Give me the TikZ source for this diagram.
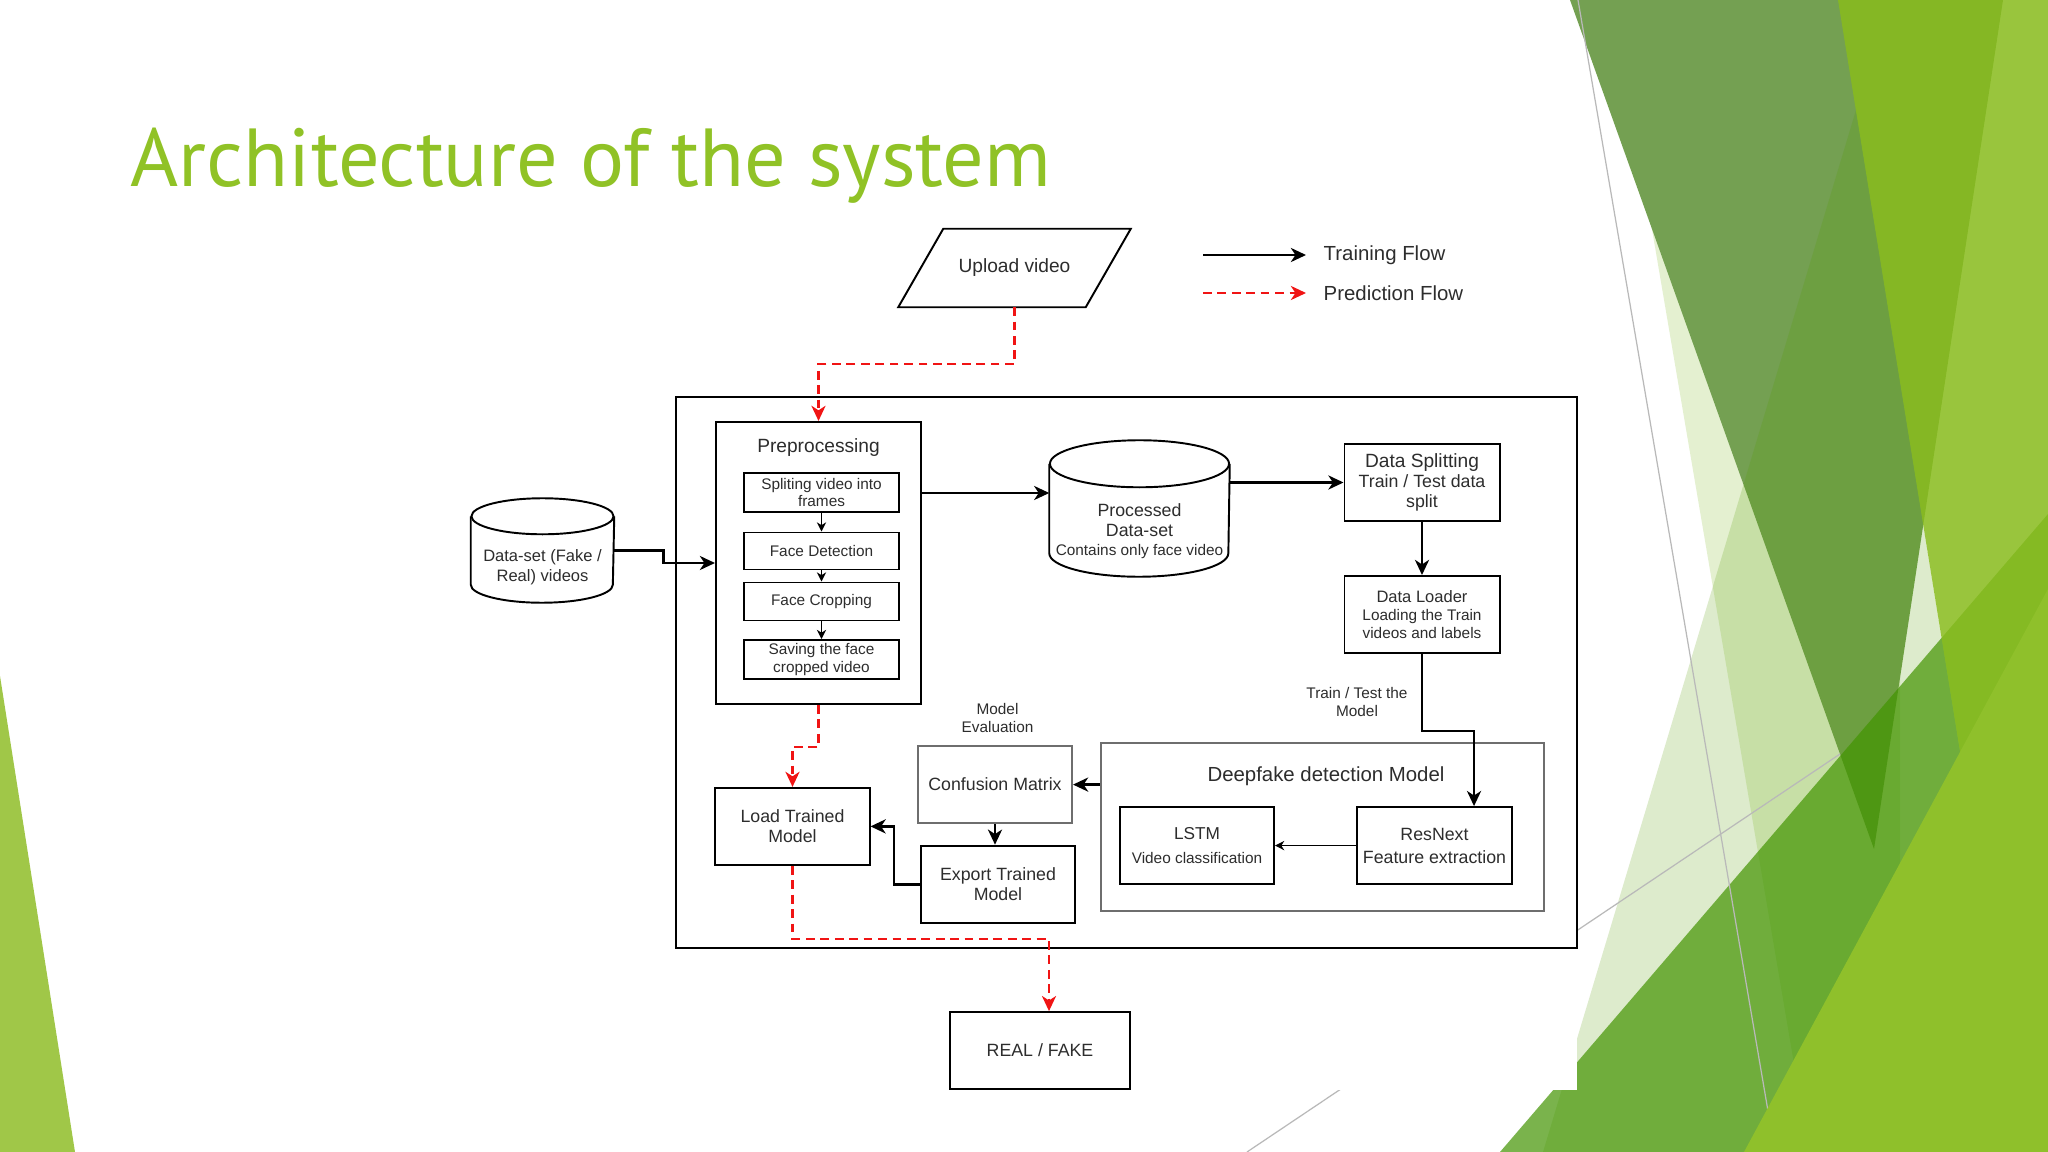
\documentclass[tikz,border=0pt]{standalone}
\usepackage{fontspec}
\setmainfont{Liberation Sans}
\newfontfamily\titlefont{PT Sans}
\usetikzlibrary{arrows.meta}

\definecolor{titlegreen}{RGB}{144,194,38}
\definecolor{leafgreen}{RGB}{160,199,72}
\definecolor{olive}{RGB}{116,160,82}
\definecolor{palegreen}{RGB}{228,240,208}
\definecolor{brightgreen}{RGB}{136,188,28}
\definecolor{deepgreen}{RGB}{85,155,0}
\definecolor{midgreen}{RGB}{66,148,0}
\definecolor{limegreen}{RGB}{143,192,43}
\definecolor{predred}{RGB}{240,20,20}
\definecolor{boxgray}{RGB}{110,110,110}
\definecolor{txtgray}{RGB}{45,45,45}

\newcommand\fsXL{\fontsize{5.8}{6.8}\selectfont}
\newcommand\fsL{\fontsize{5.45}{6.2}\selectfont}
\newcommand\fsM{\fontsize{5.05}{5.8}\selectfont}
\newcommand\fsMS{\fontsize{4.7}{5.7}\selectfont}
\newcommand\fsS{\fontsize{4.37}{5.1}\selectfont}

\tikzset{
  box/.style={draw=black, line width=0.55pt, rectangle, align=center, inner sep=0.5pt, text=txtgray},
  graybox/.style={box, draw=boxgray},
  dbbox/.style={rectangle, inner sep=0pt},
  dbline/.style={draw=black, line width=0.55pt},
  flow/.style={line width=0.75pt, -{Stealth[length=4.3pt,width=4pt,inset=1.3pt]}},
  thinflow/.style={line width=0.45pt, -{Stealth[length=2.6pt,width=2.6pt,inset=0.8pt]}},
  predict/.style={line width=0.7pt, predred, dash pattern=on 2.5pt off 1.6pt, -{Stealth[length=4.3pt,width=4pt,inset=1.3pt]}},
  lbl/.style={text=txtgray, align=center, inner sep=0pt},
}

\begin{document}
\begin{tikzpicture}[x=0.01cm, y=-0.01cm]
\useasboundingbox (0,0) rectangle (2048,1152);
% slide background
\fill[white] (0,0) rectangle (2048,1152);
\fill[leafgreen] (0,676) -- (75,1152) -- (0,1152) -- cycle;
\fill[palegreen] (1613,0) -- (1900,0) -- (1900,1152) -- (1809,1152) -- cycle;
\fill[olive] (1570,0) -- (2003,0) -- (1874,849) -- cycle;
\fill[deepgreen, fill opacity=0.2] (1856,110) -- (2025,1152) -- (1543,1152) -- cycle;
\draw[gray!55, line width=0.35pt] (1247,1152) -- (1840,754);
\fill[midgreen, fill opacity=0.7] (1500,1152) -- (2048,514) -- (2048,1152) -- cycle;
\fill[brightgreen, fill opacity=0.85] (1838,0) -- (2048,0) -- (2048,1152) -- (2025,1152) -- cycle;
\draw[gray!55, line width=0.35pt] (1578,0) -- (1775,1152);
\fill[limegreen] (1744,1152) -- (2048,589) -- (2048,1152) -- cycle;
\fill[white] (300,215) rectangle (1577,1090);

\node[anchor=base west, inner sep=0pt, font=\titlefont\fontsize{23.4}{26}\selectfont, text=titlegreen] (title) at (130,187) {Architecture of the system};

% legend
\coordinate (trainA) at (1203,255);
\coordinate (trainB) at (1306,255);
\coordinate (predA) at (1203,293);
\coordinate (predB) at (1306,293);
\draw[flow] (trainA) -- (trainB);
\draw[predict] (predA) -- (predB);
\node[lbl, anchor=west, font=\fsXL] (trainlbl) at (1323,255) {Training Flow};
\node[lbl, anchor=west, font=\fsXL] (predlbl) at (1323,293) {Prediction Flow};

% diagram
\node[box, minimum width=9.01cm, minimum height=5.51cm] (outer) at (1126.5,672.2) {};
\node[lbl, minimum width=1.86cm, minimum height=0.77cm, font=\fsL] (upload) at (1014.5,268) {Upload video};
\draw[line width=0.55pt] ([xshift=-0.225cm]upload.south west) -- ([xshift=0.225cm]upload.north west)
  -- ([xshift=0.225cm]upload.north east) -- ([xshift=-0.225cm]upload.south east) -- cycle;

\node[dbbox, minimum width=1.42cm, minimum height=1.03cm] (data) at (542.5,550.5) {};
\draw[dbline] ([yshift=-0.18cm]data.north west) -- ([yshift=0.18cm]data.south west)
  arc[start angle=180, end angle=360, x radius=0.71cm, y radius=0.18cm] -- ([yshift=-0.18cm]data.north east);
\draw[dbline] ([yshift=-0.18cm]data.north) ellipse [x radius=0.71cm, y radius=0.18cm];
\node[lbl, font=\fsMS] (datatext) at (542.5,567) {Data-set (Fake /\\Real) videos};

\node[box, minimum width=2.05cm, minimum height=2.82cm] (pre) at (818.5,563) {};
\node[lbl, font=\fsL] (pretitle) at (818.5,448) {Preprocessing};
\node[box, minimum width=1.55cm, minimum height=0.39cm, font=\fsS] (split) at (821.5,492.5) {Spliting video into\\frames};
\node[box, minimum width=1.55cm, minimum height=0.37cm, font=\fsS] (detect) at (821.5,551) {Face Detection};
\node[box, minimum width=1.55cm, minimum height=0.38cm, font=\fsS] (crop) at (821.5,601.5) {Face Cropping};
\node[box, minimum width=1.55cm, minimum height=0.39cm, font=\fsS] (save) at (821.5,659.5) {Saving the face\\cropped video};

\node[dbbox, minimum width=1.79cm, minimum height=1.35cm] (proc) at (1139.5,508.5) {};
\draw[dbline] ([yshift=-0.235cm]proc.north west) -- ([yshift=0.235cm]proc.south west)
  arc[start angle=180, end angle=360, x radius=0.895cm, y radius=0.235cm] -- ([yshift=-0.235cm]proc.north east);
\draw[dbline] ([yshift=-0.235cm]proc.north) ellipse [x radius=0.895cm, y radius=0.235cm];
\node[lbl, font=\fsM] (proctext) at (1139.5,531) {Processed\\Data-set\\[-0.6pt]{\fsS Contains only face video}};

\node[box, minimum width=1.55cm, minimum height=0.77cm, font=\fsM] (datasplit) at (1422,482.5) {{\fsL Data Splitting}\\Train / Test data\\split};
\node[box, minimum width=1.55cm, minimum height=0.77cm, font=\fsS] (loader) at (1422,614.5) {{\fsMS Data Loader}\\Loading the Train\\videos and labels};
\node[lbl, font=\fsS] (trainlabel) at (1357,702) {Train / Test the\\Model};

\node[graybox, minimum width=4.43cm, minimum height=1.68cm] (deep) at (1322.4,826.9) {};
\node[lbl, font=\fsXL] (deeptitle) at (1326,776) {Deepfake detection Model};
\node[box, minimum width=1.55cm, minimum height=0.77cm, font=\fsM, align=center] (resnext) at (1434.5,845.6) {ResNext\\[0.7pt]Feature extraction};
\node[box, minimum width=1.54cm, minimum height=0.77cm, font=\fsS] (lstm) at (1197,845.6) {{\fontsize{4.9}{5.7}\selectfont LSTM}\\[1.8pt]Video classification};

\node[graybox, minimum width=1.54cm, minimum height=0.77cm, font=\fsM] (conf) at (995,784.6) {Confusion Matrix};
\node[lbl, font=\fsS] (evallabel) at (997.5,718) {Model\\Evaluation};
\node[box, minimum width=1.54cm, minimum height=0.77cm, font=\fsM] (export) at (998,884.2) {Export Trained\\Model};
\node[box, minimum width=1.54cm, minimum height=0.77cm, font=\fsM] (load) at (792.5,826.4) {Load Trained\\Model};
\node[box, minimum width=1.8cm, minimum height=0.77cm, font=\fsM] (result) at (1040,1050.6) {REAL / FAKE};

% training flow
\draw[flow] (data.east) -- ++(49,0) |- (pre.west);
\draw[thinflow] (split) -- (detect);
\draw[thinflow] (detect) -- (crop);
\draw[thinflow] (crop) -- (save);
\draw[flow] (pre.east |- 0,493) -- (proc.west |- 0,493);
\draw[flow] (proc.east |- datasplit.west) -- (datasplit.west);
\draw[flow] (datasplit) -- (loader);
\draw[flow] (loader.south) -- ++(0,77) -| ([xshift=0.395cm]resnext.north);
\draw[thinflow] (resnext) -- (lstm);
\draw[flow] (deep.west |- conf.east) -- (conf.east);
\draw[flow] (conf.south) -- (conf.south |- export.north);
\draw[flow] (export.west) -- ++(-26,0) |- (load.east);

% prediction flow
\draw[predict] (upload.south) -- ++(0,57) -| (pre.north);
\draw[predict] (pre.south) -- ++(0,42) -| (load.north);
\draw[predict] (load.south) -- ++(0,73) -| ([xshift=0.09cm]result.north);
\end{tikzpicture}
\end{document}
